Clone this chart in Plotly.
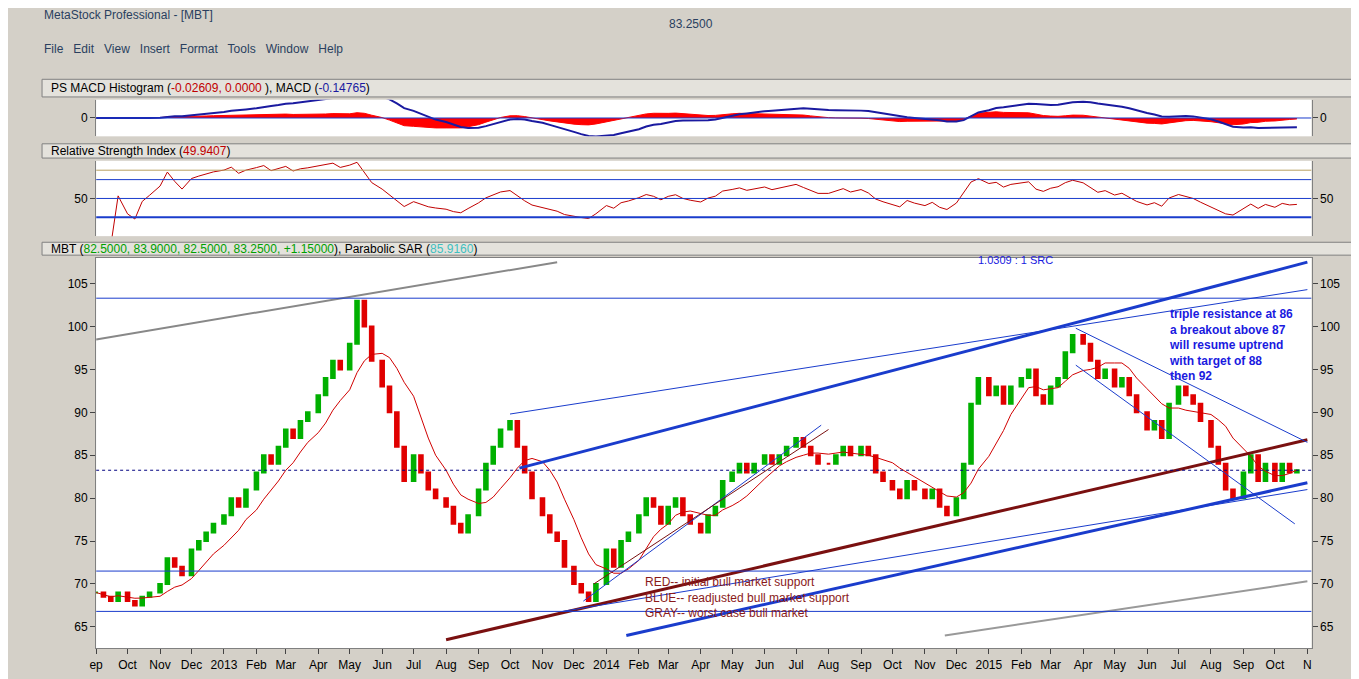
import plotly.graph_objects as go
import pandas as pd

# Monthly groups of four weekly closes, Sep 2012 .. Oct 2015
months = pd.date_range("2012-09-01", "2015-10-01", freq="MS")
weekly_closes = [
    69, 68.5, 68, 69,   68, 67.5, 68.5, 69,   70, 73, 72, 71,   74, 75, 76, 77,
    78, 80, 79, 81,     83, 85, 84, 86,       88, 87, 89, 90,   92, 94, 96, 95,
    98, 103, 100, 96,   93, 90, 86, 82,       85, 83, 81, 80,   79, 77, 76, 78,
    81, 84, 86, 88,     89, 86, 83, 80,       78, 76, 75, 72,   70, 69, 68, 70,
    74, 72, 75, 76,     78, 80, 79, 77,       79, 80, 78, 77,   76, 78, 79, 82,
    83, 84, 83, 84,     85, 84, 85, 86,       87, 86, 85, 84,   84, 85, 86, 85,
    86, 85, 83, 82,     81, 80, 82, 81,       80, 81, 79, 78,   80, 84, 91, 94,
    92, 93, 91, 93,     94, 95, 92, 91,       93, 94, 97, 99,   98, 96, 94, 95,
    93, 94, 92, 90,     88, 89, 87, 91,       93, 92, 91, 89,   86, 84, 81, 80,
    83, 85, 82, 84,     82, 84, 83, 83.25,
]
week_days = [1, 8, 15, 22]

# trend lines: (start date, start price, end date, end price, colour, width)
trend_lines = [
    ("2012-09-01", 98.5, "2013-11-15", 107.5, "#888888", 2),
    ("2014-11-20", 64.0, "2015-11-01", 70.3, "#999999", 2),
    ("2013-08-01", 63.5, "2015-11-01", 86.8, "#7a1010", 3),
    ("2013-10-10", 83.5, "2015-11-01", 107.5, "#1a3ccc", 3),
    ("2014-01-20", 64.0, "2015-11-01", 81.8, "#1a3ccc", 3),
    ("2013-10-01", 89.8, "2015-11-01", 104.3, "#1a3ccc", 1),
    ("2013-11-20", 66.8, "2015-11-01", 81.0, "#1a3ccc", 1),
    ("2015-03-25", 99.8, "2015-11-01", 86.5, "#1a3ccc", 1),
    ("2015-03-25", 95.5, "2015-10-20", 77.0, "#1a3ccc", 1),
    ("2013-12-10", 68.0, "2014-07-25", 88.5, "#1a3ccc", 1),
    ("2013-12-20", 70.0, "2014-08-01", 88.0, "#7a1010", 1),
]
hlines = [(103.3, "#1a3ccc"), (71.5, "#1a3ccc"), (66.8, "#1a3ccc")]
month_labels = ["ep", "Oct", "Nov", "Dec", "2013", "Feb", "Mar", "Apr", "May", "Jun", "Jul", "Aug", "Sep",
                "Oct", "Nov", "Dec", "2014", "Feb", "Mar", "Apr", "May", "Jun", "Jul", "Aug", "Sep",
                "Oct", "Nov", "Dec", "2015", "Feb", "Mar", "Apr", "May", "Jun", "Jul", "Aug", "Sep", "Oct", "N"]
tick_dates = pd.date_range("2012-09-01", "2015-11-01", freq="MS")

dates = [m + pd.Timedelta(days=d - 1) for m in months for d in week_days]
close = pd.Series(weekly_closes, index=dates)
opens = close.shift(1).fillna(close.iloc[0])
highs = pd.concat([opens, close], axis=1).max(axis=1)
lows = pd.concat([opens, close], axis=1).min(axis=1)
ma = close.rolling(8, min_periods=1).mean()

ema12 = close.ewm(span=12).mean()
ema26 = close.ewm(span=26).mean()
macd = ema12 - ema26
signal = macd.ewm(span=9).mean()
hist = macd - signal

delta = close.diff()
gain = delta.clip(lower=0).ewm(alpha=1 / 14).mean()
loss = (-delta.clip(upper=0)).ewm(alpha=1 / 14).mean()
rsi = 100 - 100 / (1 + gain / loss)

x0, x1 = "2012-09-01", "2015-11-05"
fig = go.Figure()

fig.add_trace(go.Scatter(x=dates, y=hist, fill="tozeroy", line=dict(color="red", width=1),
                         fillcolor="red", xaxis="x", yaxis="y"))
fig.add_trace(go.Scatter(x=dates, y=macd, line=dict(color="#1a1aa0", width=2), xaxis="x", yaxis="y"))
fig.add_trace(go.Scatter(x=dates, y=rsi, line=dict(color="#c00000", width=1), xaxis="x", yaxis="y2"))
fig.add_trace(go.Candlestick(x=dates, open=opens, high=highs, low=lows, close=close,
                             increasing=dict(line=dict(color="#00b000"), fillcolor="#00b000"),
                             decreasing=dict(line=dict(color="#e00000"), fillcolor="#e00000"),
                             xaxis="x", yaxis="y3"))
fig.add_trace(go.Scatter(x=dates, y=ma, line=dict(color="#d00000", width=1), xaxis="x", yaxis="y3"))
for d0, p0, d1, p1, c, w in trend_lines:
    fig.add_trace(go.Scatter(x=[d0, d1], y=[p0, p1], mode="lines", line=dict(color=c, width=w),
                             xaxis="x", yaxis="y3"))
for p, c in hlines:
    fig.add_trace(go.Scatter(x=[x0, x1], y=[p, p], mode="lines", line=dict(color=c, width=1),
                             xaxis="x", yaxis="y3"))
fig.add_trace(go.Scatter(x=[x0, x1], y=[83.25, 83.25], mode="lines", line=dict(color="#000080", width=1, dash="dot"),
                         xaxis="x", yaxis="y3"))
for lv, c, w in [(50, "#1a3ccc", 1), (30, "#1a3ccc", 2), (70, "#1a3ccc", 1), (80, "#b8a060", 1)]:
    fig.add_trace(go.Scatter(x=[x0, x1], y=[lv, lv], mode="lines", line=dict(color=c, width=w),
                             xaxis="x", yaxis="y2"))
fig.add_trace(go.Scatter(x=[x0, x1], y=[0, 0], mode="lines", line=dict(color="#1a3ccc", width=1),
                         xaxis="x", yaxis="y"))

ax = dict(showgrid=False, zeroline=False, showline=True, linecolor="#808080", mirror=True,
          tickfont=dict(family="Liberation Sans", size=12, color="black"), ticks="outside")
fig.update_layout(
    width=1359, height=679, showlegend=False,
    paper_bgcolor="#d4d0c8", plot_bgcolor="white",
    margin=dict(l=0, r=0, t=0, b=0),
    xaxis=dict(ax, domain=[0.06, 0.959], range=[x0, x1], anchor="y3", type="date",
               tickvals=list(tick_dates), ticktext=month_labels, rangeslider=dict(visible=False)),
    yaxis=dict(ax, domain=[0.811, 0.865], range=[-4, 4], tickvals=[0], anchor="x"),
    yaxis2=dict(ax, domain=[0.664, 0.775], range=[10, 90], tickvals=[50], anchor="x"),
    yaxis3=dict(ax, domain=[0.057, 0.632], range=[62.5, 108], tickvals=[65, 70, 75, 80, 85, 90, 95, 100, 105], anchor="x"),
    yaxis4=dict(ax, overlaying="y3", side="right", range=[62.5, 108], tickvals=[65, 70, 75, 80, 85, 90, 95, 100, 105], anchor="x"),
    yaxis5=dict(ax, overlaying="y2", side="right", range=[10, 90], tickvals=[50], anchor="x"),
    yaxis6=dict(ax, overlaying="y", side="right", range=[-4, 4], tickvals=[0], anchor="x"),
)
# dummy traces so the right-hand axes render
fig.add_trace(go.Scatter(x=[x0], y=[70], mode="markers", marker=dict(opacity=0), xaxis="x", yaxis="y4"))
fig.add_trace(go.Scatter(x=[x0], y=[50], mode="markers", marker=dict(opacity=0), xaxis="x", yaxis="y5"))
fig.add_trace(go.Scatter(x=[x0], y=[0], mode="markers", marker=dict(opacity=0), xaxis="x", yaxis="y6"))

# panel title bars
for top, bottom in [(0.895, 0.869), (0.800, 0.779), (0.655, 0.636)]:
    fig.add_shape(type="rect", xref="paper", yref="paper", x0=0.02, x1=0.996, y0=bottom, y1=top,
                  fillcolor="#e4e2dc", line=dict(color="#808080", width=1), layer="below")
titles = [
    (0.882, "PS MACD Histogram (<span style='color:#c00000'>-0.02609, 0.0000 </span>), MACD (<span style='color:#1a1aa0'>-0.14765</span>)"),
    (0.789, "Relative Strength Index (<span style='color:#c00000'>49.9407</span>)"),
    (0.645, "MBT (<span style='color:#00a000'>82.5000, 83.9000, 82.5000, 83.2500, +1.15000</span>), Parabolic SAR (<span style='color:#40c0c0'>85.9160</span>)"),
]
for y, t in titles:
    fig.add_annotation(text=t, xref="paper", yref="paper", x=0.025, y=y, xanchor="left", yanchor="middle",
                       showarrow=False, font=dict(family="Liberation Sans", size=12, color="black"))
fig.add_annotation(text="MetaStock Professional - [MBT]", xref="paper", yref="paper", x=0.02, y=0.99,
                   xanchor="left", yanchor="middle", showarrow=False, font=dict(size=12, family="Liberation Sans"))
fig.add_annotation(text="83.2500", xref="paper", yref="paper", x=0.5, y=0.99, showarrow=False,
                   font=dict(size=12, family="Liberation Sans"))
fig.add_annotation(text="File   Edit   View   Insert   Format   Tools   Window   Help", xref="paper", yref="paper",
                   x=0.02, y=0.953, xanchor="left", showarrow=False, font=dict(size=12, family="Liberation Sans"))

fig.add_annotation(text="<b>triple resistance at 86<br>a breakout above 87<br>will resume uptrend<br>with target of 88<br>then 92</b>",
                   x="2015-06-20", y=102.5, xref="x", yref="y3", xanchor="left", yanchor="top", align="left",
                   showarrow=False, font=dict(family="Liberation Sans", size=12, color="#1a1ae0"))
fig.add_annotation(text="RED-- initial bull market support<br>BLUE-- readjusted bull market support<br>GRAY-- worst case bull market",
                   x="2014-02-05", y=71.3, xref="x", yref="y3", xanchor="left", yanchor="top", align="left",
                   showarrow=False, font=dict(family="Liberation Sans", size=12, color="#8a1a1a"))
fig.add_annotation(text="1.0309 : 1 SRC", x="2014-12-20", y=107.8, xref="x", yref="y3", xanchor="left",
                   showarrow=False, font=dict(family="Liberation Sans", size=11, color="#1a1ae0"))

fig.write_html("out.html")
